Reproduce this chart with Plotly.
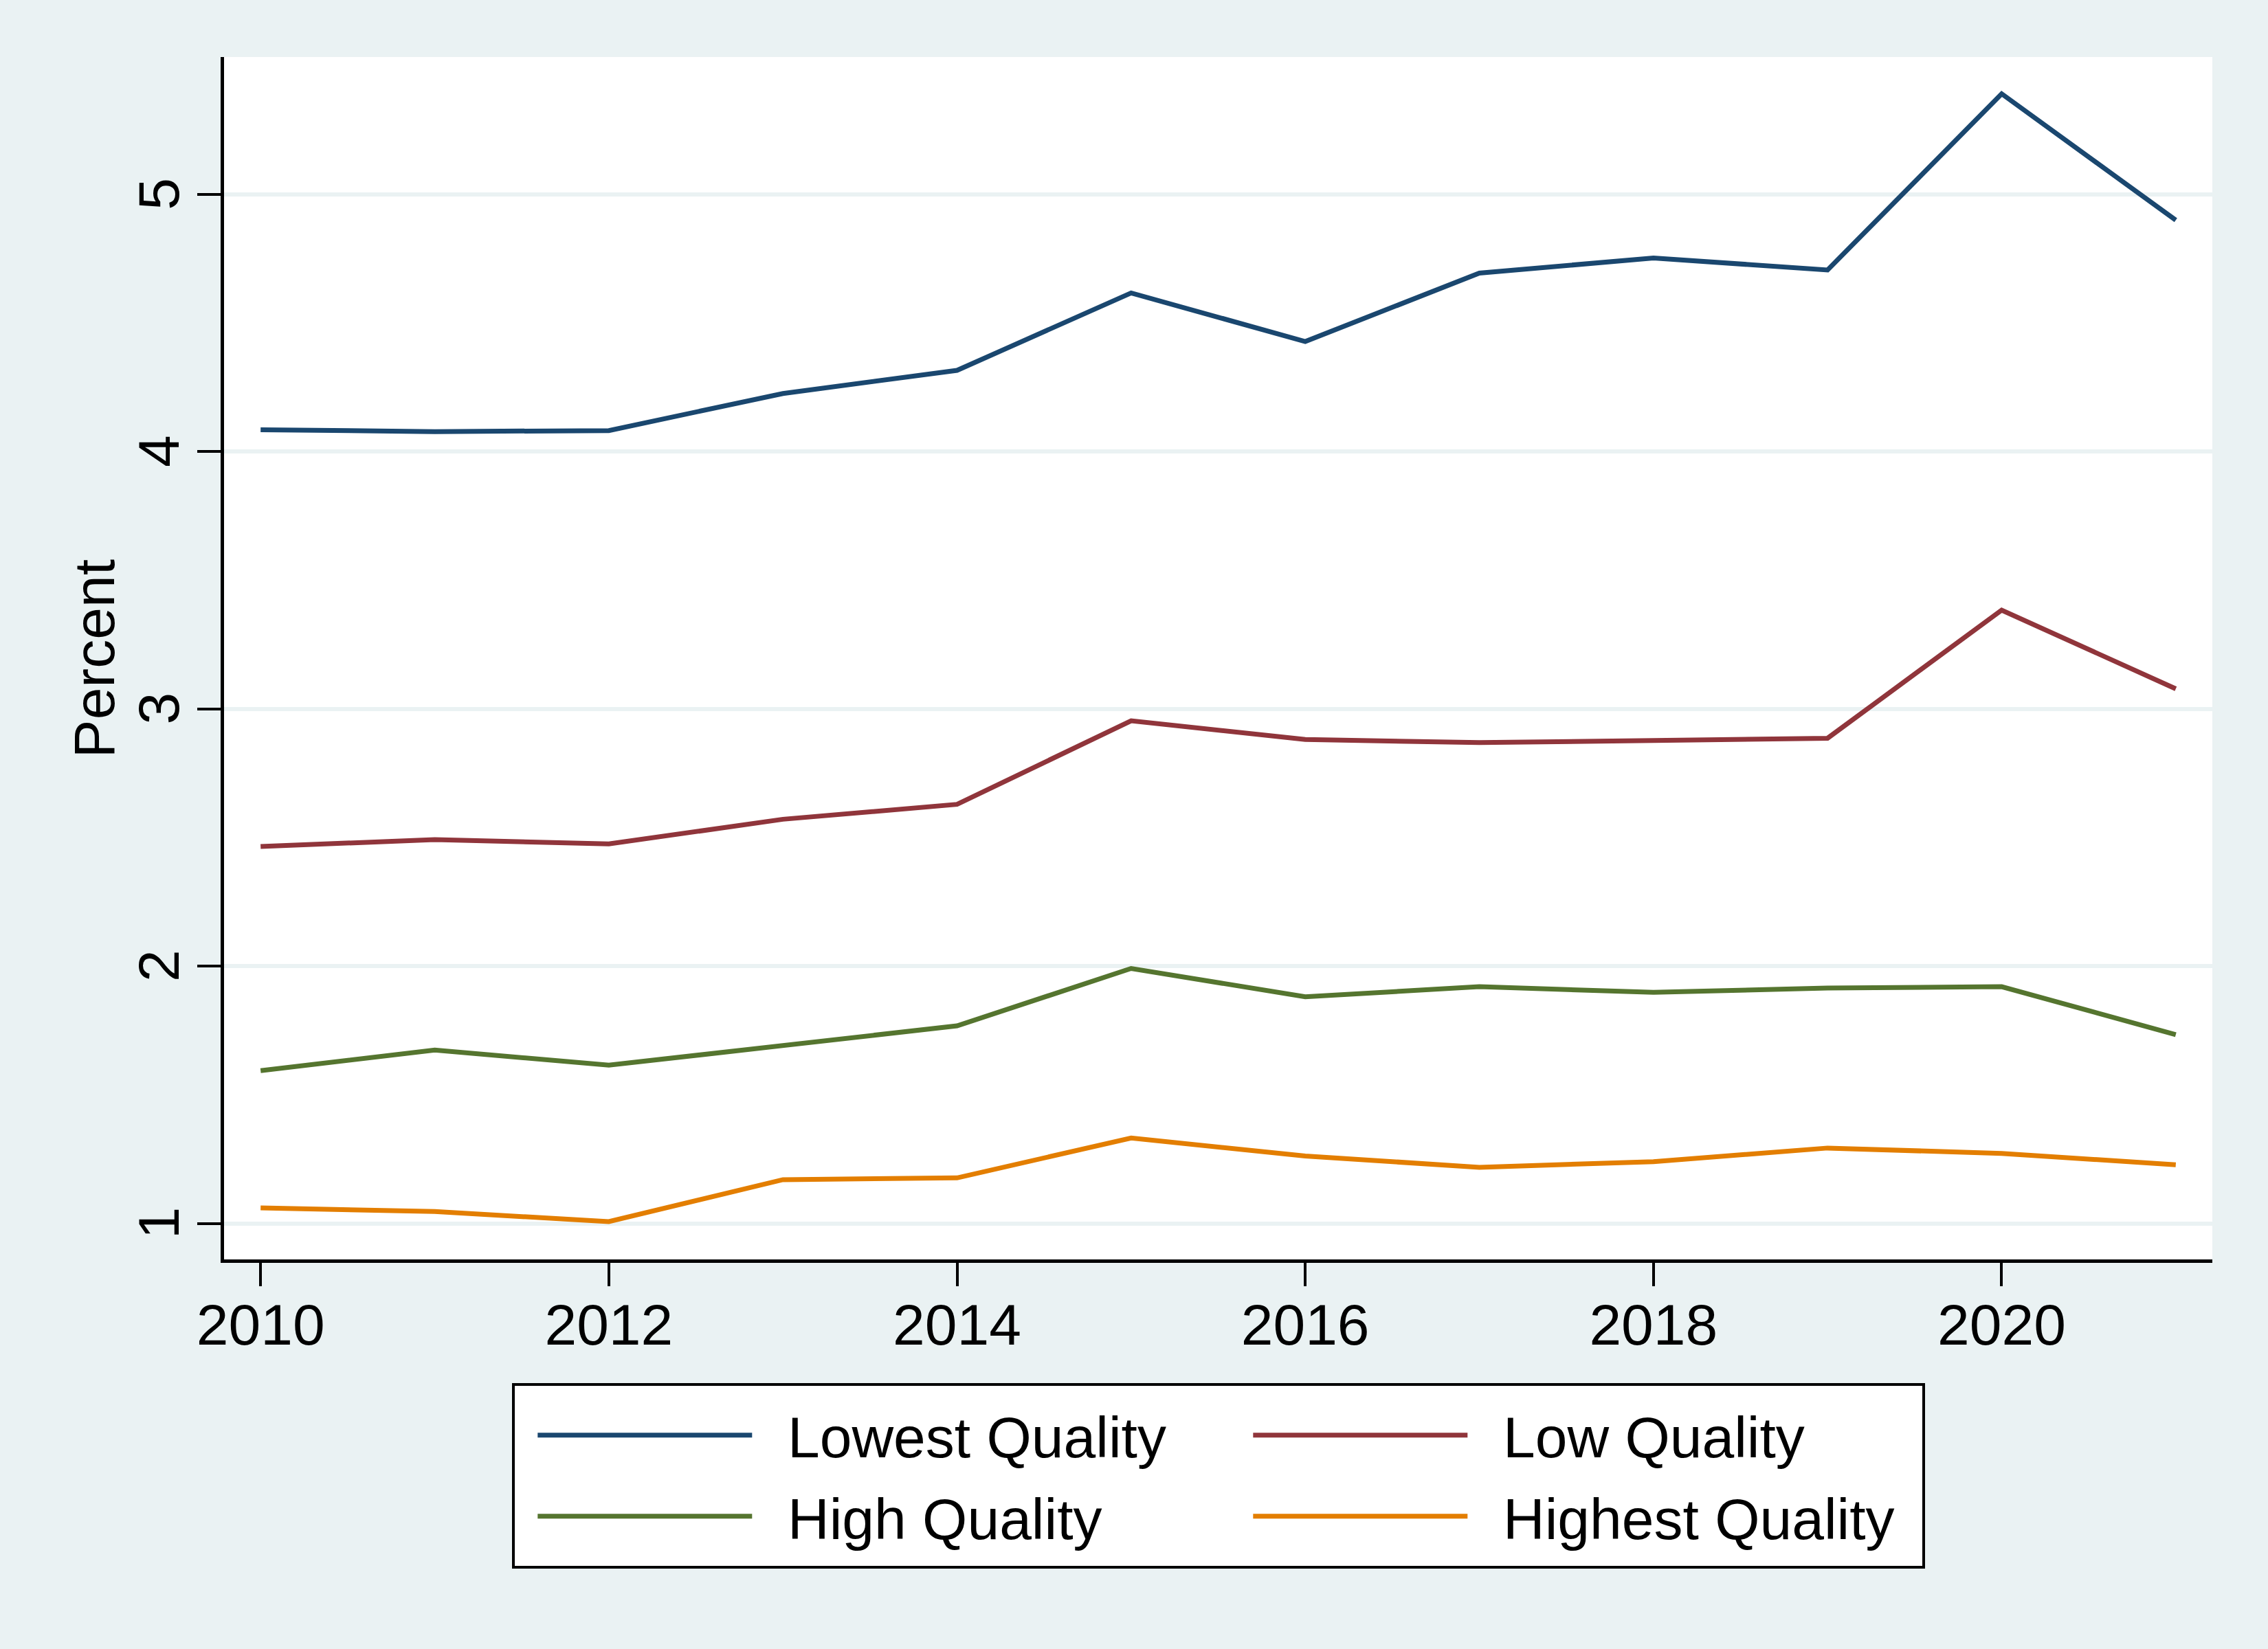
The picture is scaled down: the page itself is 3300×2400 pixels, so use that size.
import plotly.graph_objects as go

years = list(range(2010, 2022))

lowest_quality = [4.085, 4.078, 4.082, 4.226, 4.316, 4.617, 4.428, 4.694, 4.753, 4.706, 5.391, 4.900]
low_quality = [2.465, 2.492, 2.475, 2.571, 2.629, 2.954, 2.881, 2.869, 2.877, 2.886, 3.384, 3.078]
high_quality = [1.594, 1.674, 1.615, 1.691, 1.768, 1.991, 1.881, 1.920, 1.898, 1.915, 1.920, 1.734]
highest_quality = [1.060, 1.046, 1.007, 1.170, 1.177, 1.332, 1.262, 1.218, 1.240, 1.293, 1.272, 1.228]

# name, values, colour, which legend row
series = [
    ("Lowest Quality", lowest_quality, "#1a476f", "legend"),
    ("Low Quality", low_quality, "#90353b", "legend"),
    ("High Quality", high_quality, "#55752f", "legend2"),
    ("Highest Quality", highest_quality, "#e37e00", "legend2"),
]

x_ticks = [2010, 2012, 2014, 2016, 2018, 2020]
y_ticks = [1, 2, 3, 4, 5]

bg = "#eaf2f3"
font = "Liberation Sans, Arial, sans-serif"
gap = "\u00a0\u00a0"  # space between legend key and label

fig = go.Figure()
for name, vals, color, leg in series:
    fig.add_trace(go.Scatter(
        x=years, y=vals, mode="lines", name=gap + name, legend=leg,
        line=dict(color=color, width=7)
    ))

legend_style = dict(
    orientation="h", x=0.156, xanchor="left", yanchor="middle",
    bgcolor="rgba(0,0,0,0)", borderwidth=0,
    font=dict(size=84), entrywidth=714, itemwidth=312,
    traceorder="normal",
)

fig.update_layout(
    width=3300, height=2400,
    paper_bgcolor=bg, plot_bgcolor="white",
    margin=dict(l=326, r=81, t=83, b=567),
    font=dict(family=font, size=84, color="black"),
    showlegend=True,
    legend=dict(legend_style, y=-0.1463),
    legend2=dict(legend_style, y=-0.2138),
    # legend frame
    shapes=[dict(
        type="rect", xref="paper", yref="paper",
        x0=(747 - 326) / 2893, x1=(2799 - 326) / 2893,
        y0=(1833 - 2015) / 1750, y1=(1833 - 2281) / 1750,
        fillcolor="white", line=dict(color="black", width=4), layer="above",
    )],
    annotations=[dict(
        text="Percent", textangle=-90, xref="paper", yref="paper",
        x=-0.0652, y=0.5, xanchor="center", yanchor="middle",
        showarrow=False, font=dict(size=84),
    )],
)
fig.update_xaxes(
    range=[2009.79, 2021.21], tickvals=x_ticks,
    showline=True, linecolor="black", linewidth=4.5,
    ticks="outside", ticklen=34, tickwidth=4, tickcolor="black",
    ticklabelstandoff=-16,
    showgrid=False, zeroline=False,
)
fig.update_yaxes(
    range=[0.86, 5.534], tickvals=y_ticks, tickangle=-90,
    showline=True, linecolor="black", linewidth=4.5,
    ticks="outside", ticklen=34, tickwidth=4, tickcolor="black",
    ticklabelstandoff=-6, ticklabelshift=12,
    showgrid=True, gridcolor=bg, gridwidth=6, zeroline=False,
)

fig.write_html(
    "out.html",
    config={"displayModeBar": False},
    post_script="document.body.style.margin='0';",
)
